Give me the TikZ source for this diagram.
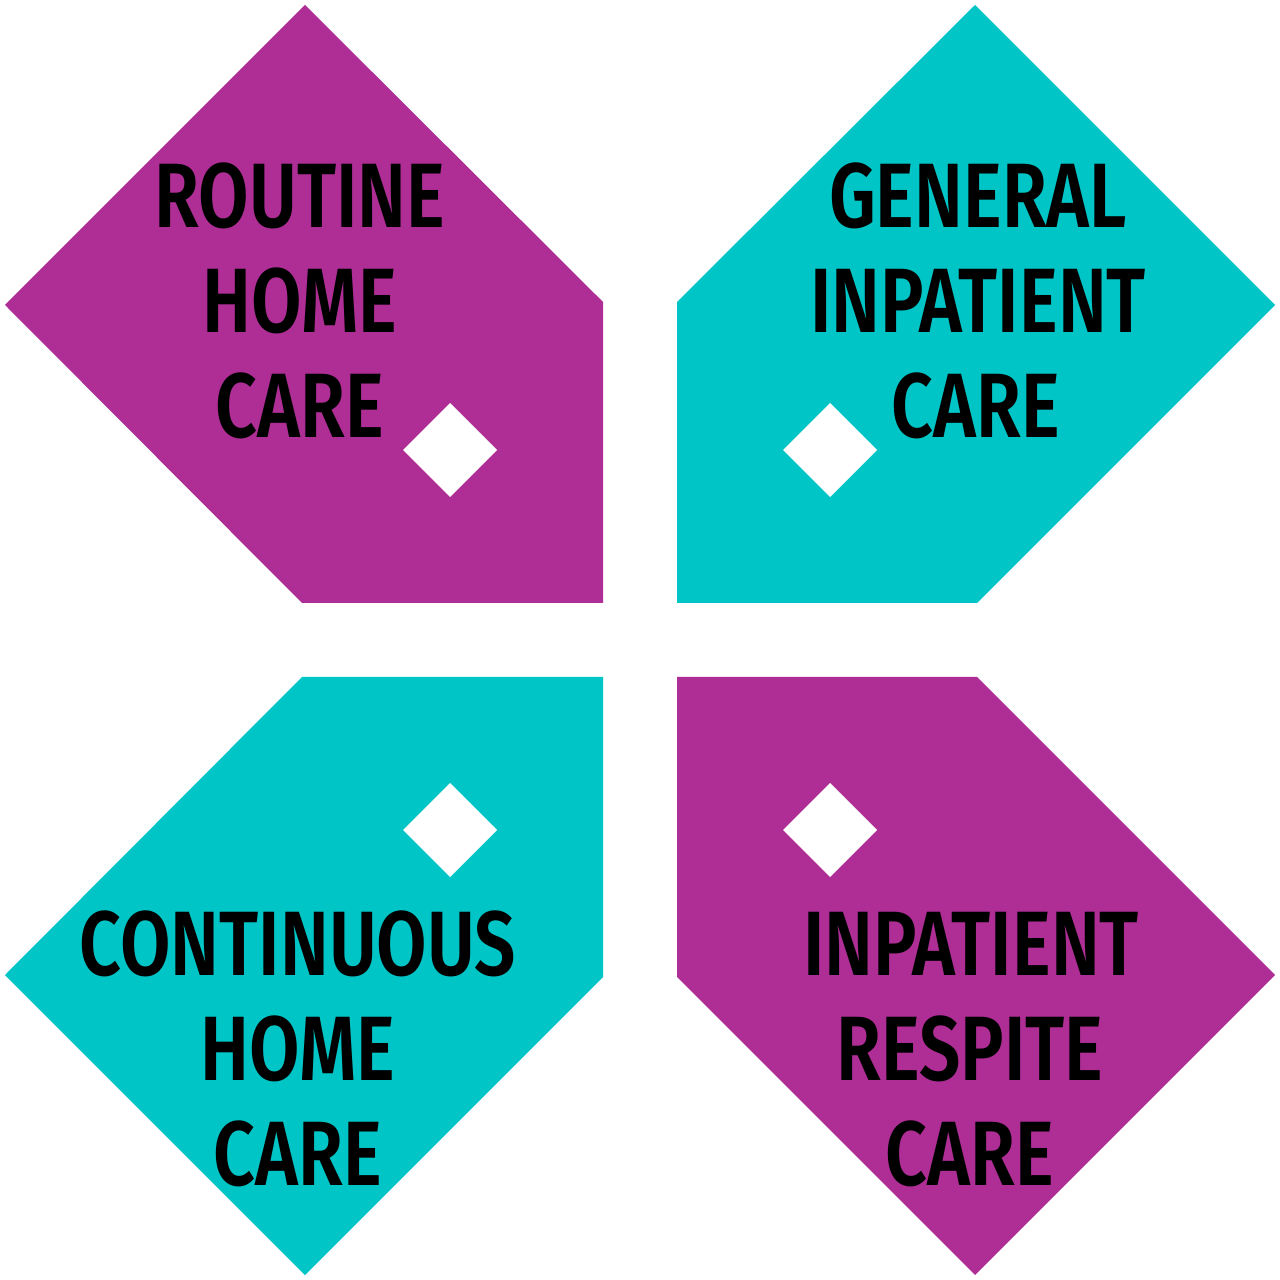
\documentclass[tikz,border=0pt]{standalone}
\usepackage{fontspec}
\setmainfont{Fira Sans}[FakeStretch=0.8,BoldFont={Fira Sans SemiBold}]
\definecolor{plum}{RGB}{174,46,150}
\definecolor{aqua}{RGB}{0,197,199}
\begin{document}
\begin{tikzpicture}[x=0.01cm,y=-0.01cm,
  lbl/.style={anchor=base,inner sep=0pt,font=\fontsize{26}{30}\selectfont\bfseries,text=black},
  gem/.style={fill=white,draw=none}]
\useasboundingbox (0,0) rectangle (1280,1280);
% shapes
\fill[plum] (5,305) -- (305,5) -- (603,302) -- (603,603) -- (302,603) -- cycle;
\fill[aqua] (975,5) -- (1275,305) -- (977,603) -- (677,603) -- (677,302) -- cycle;
\fill[aqua] (302,677) -- (603,677) -- (603,977) -- (305,1275) -- (5,975) -- cycle;
\fill[plum] (677,677) -- (977,677) -- (1275,975) -- (975,1275) -- (677,977) -- cycle;
% diamonds
\fill[gem] (403,450) -- (450,403) -- (497,450) -- (450,497) -- cycle;
\fill[gem] (783,450) -- (830,403) -- (877,450) -- (830,497) -- cycle;
\fill[gem] (403,830) -- (450,783) -- (497,830) -- (450,877) -- cycle;
\fill[gem] (783,830) -- (830,783) -- (877,830) -- (830,877) -- cycle;
% labels
\node[lbl] (a1) at (300,228) {ROUTINE};
\node[lbl] (a2) at (300,333) {HOME};
\node[lbl] (a3) at (300,438) {CARE};
\node[lbl] (b1) at (978,228) {GENERAL};
\node[lbl] (b2) at (978,333) {INPATIENT};
\node[lbl] (b3) at (976,438) {CARE};
\node[lbl] (c1) at (298,975) {CONTINUOUS};
\node[lbl] (c2) at (298,1080) {HOME};
\node[lbl] (c3) at (298,1185) {CARE};
\node[lbl] (d1) at (971,975) {INPATIENT};
\node[lbl] (d2) at (970,1080) {RESPITE};
\node[lbl] (d3) at (970,1185) {CARE};
\end{tikzpicture}
\end{document}
